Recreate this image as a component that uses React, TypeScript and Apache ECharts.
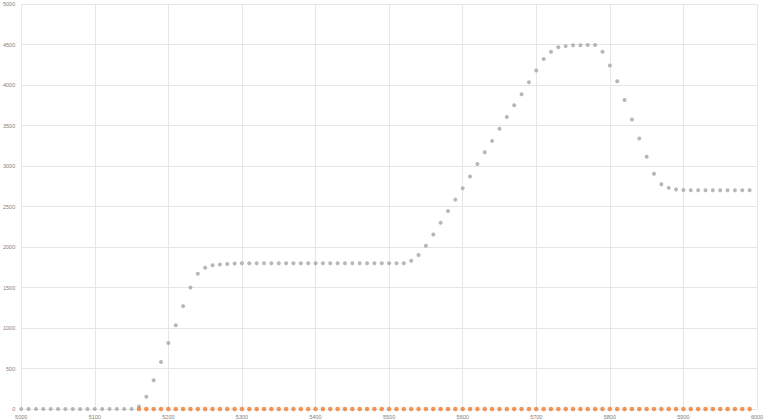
import React, { useEffect, useRef } from "react";
import * as echarts from "echarts";

const grayX = [
  5000, 5010, 5020, 5030, 5040, 5050, 5060, 5070, 5080, 5090,
  5100, 5110, 5120, 5130, 5140, 5150, 5160, 5170, 5180, 5190,
  5200, 5210, 5220, 5230, 5240, 5250, 5260, 5270, 5280, 5290,
  5300, 5310, 5320, 5330, 5340, 5350, 5360, 5370, 5380, 5390,
  5400, 5410, 5420, 5430, 5440, 5450, 5460, 5470, 5480, 5490,
  5500, 5510, 5520, 5530, 5540, 5550, 5560, 5570, 5580, 5590,
  5600, 5610, 5620, 5630, 5640, 5650, 5660, 5670, 5680, 5690,
  5700, 5710, 5720, 5730, 5740, 5750, 5760, 5770, 5780, 5790,
  5800, 5810, 5820, 5830, 5840, 5850, 5860, 5870, 5880, 5890,
  5900, 5910, 5920, 5930, 5940, 5950, 5960, 5970, 5980, 5990,
];
const grayY = [
  0, 0, 0, 0, 0, 0, 0, 0, 0, 0,
  0, 0, 0, 0, 0, 0, 30, 150, 355, 580,
  815, 1035, 1270, 1500, 1670, 1745, 1775, 1785, 1790, 1795,
  1800, 1800, 1800, 1800, 1800, 1800, 1800, 1800, 1800, 1800,
  1800, 1800, 1800, 1800, 1800, 1800, 1800, 1800, 1800, 1800,
  1800, 1800, 1800, 1830, 1900, 2015, 2155, 2300, 2445, 2585,
  2725, 2870, 3025, 3170, 3310, 3460, 3605, 3750, 3885, 4035,
  4180, 4320, 4410, 4465, 4480, 4490, 4490, 4495, 4495, 4410,
  4240, 4045, 3815, 3575, 3340, 3115, 2905, 2775, 2730, 2710,
  2705, 2700, 2700, 2700, 2700, 2700, 2700, 2700, 2700, 2700,
];
const orangeX = [
  5160, 5170, 5180, 5190,
  5200, 5210, 5220, 5230, 5240, 5250, 5260, 5270, 5280, 5290,
  5300, 5310, 5320, 5330, 5340, 5350, 5360, 5370, 5380, 5390,
  5400, 5410, 5420, 5430, 5440, 5450, 5460, 5470, 5480, 5490,
  5500, 5510, 5520, 5530, 5540, 5550, 5560, 5570, 5580, 5590,
  5600, 5610, 5620, 5630, 5640, 5650, 5660, 5670, 5680, 5690,
  5700, 5710, 5720, 5730, 5740, 5750, 5760, 5770, 5780, 5790,
  5800, 5810, 5820, 5830, 5840, 5850, 5860, 5870, 5880, 5890,
  5900, 5910, 5920, 5930, 5940, 5950, 5960, 5970, 5980, 5990,
];
const orangeY = [
  0, 0, 0, 0,
  0, 0, 0, 0, 0, 0, 0, 0, 0, 0,
  0, 0, 0, 0, 0, 0, 0, 0, 0, 0,
  0, 0, 0, 0, 0, 0, 0, 0, 0, 0,
  0, 0, 0, 0, 0, 0, 0, 0, 0, 0,
  0, 0, 0, 0, 0, 0, 0, 0, 0, 0,
  0, 0, 0, 0, 0, 0, 0, 0, 0, 0,
  0, 0, 0, 0, 0, 0, 0, 0, 0, 0,
  0, 0, 0, 0, 0, 0, 0, 0, 0, 0,
];

const xMin = 5000;
const xMax = 6000;
const xStep = 100;
const yMin = 0;
const yMax = 5000;
const yStep = 500;

export default function App() {
  const ref = useRef<HTMLDivElement>(null);
  useEffect(() => {
    if (!ref.current) return;
    const chart = echarts.init(ref.current, undefined, { renderer: "svg" });
    const labelStyle = {
      color: "#808080",
      fontSize: 5.5,
      fontFamily: "Liberation Sans, Arial, sans-serif",
      formatter: (v: number) => String(v),
    };
    chart.setOption({
      animation: false,
      backgroundColor: "#ffffff",
      grid: { left: 19, right: 10, top: 4, bottom: 11, containLabel: false },
      xAxis: {
        type: "value",
        min: xMin,
        max: xMax,
        interval: xStep,
        axisLine: { show: false },
        axisTick: { show: false },
        axisLabel: { ...labelStyle, margin: 5 },
        splitLine: { show: true, lineStyle: { color: "#e6e6e6", width: 1 } },
      },
      yAxis: {
        type: "value",
        min: yMin,
        max: yMax,
        interval: yStep,
        axisLine: { show: false },
        axisTick: { show: false },
        axisLabel: { ...labelStyle, margin: 6 },
        splitLine: { show: true, lineStyle: { color: "#e6e6e6", width: 1 } },
      },
      series: [
        {
          type: "scatter",
          symbol: "circle",
          symbolSize: 4,
          itemStyle: { color: "#a5a5a5" },
          data: grayX.map((x, i) => [x, grayY[i]]),
        },
        {
          type: "scatter",
          symbol: "circle",
          symbolSize: 4.5,
          itemStyle: { color: "#ed7d31" },
          data: orangeX.map((x, i) => [x, orangeY[i]]),
        },
      ],
    });
    return () => chart.dispose();
  }, []);
  return (
    <div
      ref={ref}
      style={{ position: "fixed", left: 0, top: 0, width: 767, height: 420, background: "#fff" }}
    />
  );
}
